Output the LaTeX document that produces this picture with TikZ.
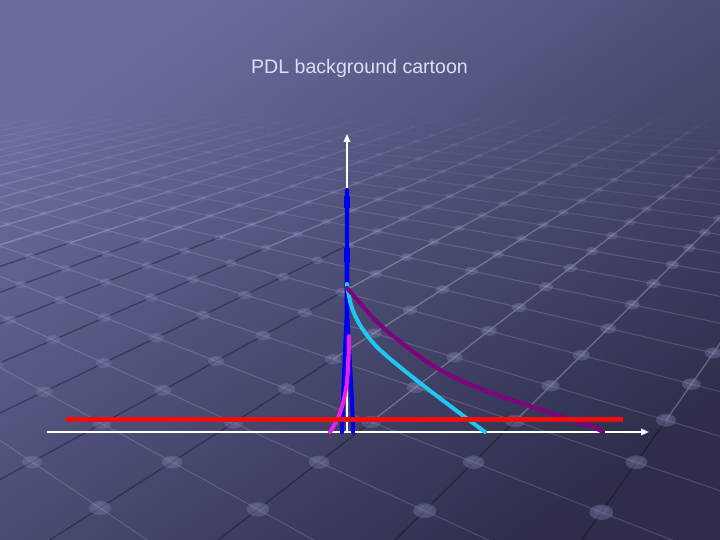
\documentclass[tikz,border=0pt]{standalone}
\usepackage{fontspec}
\setmainfont{Liberation Sans}
\usetikzlibrary{arrows.meta}
\definecolor{bgA}{RGB}{106,108,158}
\definecolor{bgB}{RGB}{46,46,76}
\definecolor{titlec}{RGB}{222,222,246}
\definecolor{pblue}{RGB}{0,0,240}
\definecolor{pcyan}{RGB}{30,200,240}
\definecolor{ppurple}{RGB}{128,0,128}
\definecolor{pmag}{RGB}{235,30,235}
\definecolor{pred}{RGB}{235,16,16}
\definecolor{dotc}{RGB}{120,122,170}
\begin{document}
\begin{tikzpicture}[x=1pt,y=-1pt,
  declare function={
    gd(\a,\b)=1-0.112*\a+0.0854*\b;
    gx(\a,\b)=(100+64.4*\a+86.7*\b)/gd(\a,\b);
    gy(\a,\b)=(508-5.7*\a-6.5*\b)/gd(\a,\b);},
  axisline/.style={white,line width=1.8pt,-{Triangle[length=8pt,width=6.5pt]}},
  curve/.style={line width=4pt,line cap=round,line join=round},
  titletext/.style={text=titlec,font=\fontsize{19.6}{22}\selectfont,inner sep=0pt,anchor=base}]
\useasboundingbox (0,0) rectangle (720,540);
\shade[top color=bgA,bottom color=bgB,shading angle=35] (0,0) rectangle (720,540);
% perspective floor grid
\begin{scope}
\clip (0,0) rectangle (720,540);
\foreach \i in {-30,...,6}{
  \foreach \j in {-6,...,30}{
    \pgfmathsetmacro\dd{gd(\i,\j)}
    \pgfmathtruncatemacro\ok{\dd>0.5 ? 1 : 0}
    \ifnum\ok=1
      \pgfmathsetmacro\xa{gx(\i,\j)}
      \pgfmathsetmacro\ya{gy(\i,\j)}
      \pgfmathtruncatemacro\vis{(\ya>100)&&(\ya<640)&&(\xa>-120)&&(\xa<840) ? 1 : 0}
      \ifnum\vis=1
        \pgfmathsetmacro\xb{gx(\i,\j+1)}
        \pgfmathsetmacro\yb{gy(\i,\j+1)}
        \pgfmathsetmacro\xc{gx(\i+1,\j)}
        \pgfmathsetmacro\yc{gy(\i+1,\j)}
        \pgfmathsetmacro\op{min(1,max(0,(\ya-108)/150))}
        \pgfmathtruncatemacro\dark{(\ya>445)||((\xa<330)&&(\ya>250)) ? 1 : 0}
        \ifnum\dark=1
          \draw[black,line width=1.3pt,opacity=0.32*\op] (\xa,\ya) -- (\xb,\yb);
        \else
          \draw[white,line width=1.3pt,opacity=0.26*\op] (\xa,\ya) -- (\xb,\yb);
        \fi
        \draw[white,line width=1.1pt,opacity=0.15*\op] (\xa,\ya) -- (\xc,\yc);
        \fill[dotc,opacity=0.42*\op] (\xa,\ya) ellipse [x radius=11/\dd, y radius=7/\dd];
        \fill[white,opacity=0.05*\op] (\xa,\ya-1.5/\dd) ellipse [x radius=7/\dd, y radius=4/\dd];
      \fi
    \fi
  }
}
\end{scope}
% title
\node[titletext] (title) at (359.5,73.3) {PDL background cartoon};
% axes
\coordinate (O) at (347,432);
\coordinate (xl) at (47,432);
\coordinate (xr) at (649,432);
\coordinate (yt) at (347,134);
\draw[axisline] (xl) -- (xr);
\draw[axisline] (O) -- (yt);
% blue narrow peak
\draw[curve,pblue] (342,432) .. controls (343,390) and (345.5,340) .. (346.5,320)
  -- (347,190) -- (347.5,320) .. controls (348.5,340) and (352,390) .. (353,432);
\draw[pblue,line width=6.5pt] (347,196) -- (347,208);
\draw[pblue,line width=6pt] (347,248) -- (347,262);
% cyan
\draw[curve,pcyan] plot[smooth,tension=0.55] coordinates {(347,284) (351,305) (360,325) (376,346) (400,367) (433,393) (485,432)};
% purple
\draw[curve,ppurple] plot[smooth,tension=0.55] coordinates {(347,288) (360,303) (375,320) (393,336) (411,350) (432,365) (462,381) (500,396) (533,407) (565,418) (590,426) (603,432)};
% magenta
\draw[curve,pmag] plot[smooth,tension=0.6] coordinates {(349,336) (348.5,360) (346.5,385) (342.5,405) (337,420) (330,432)};
% red line
\draw[pred,line width=5pt] (66,419) -- (623,419);
\end{tikzpicture}
\end{document}
